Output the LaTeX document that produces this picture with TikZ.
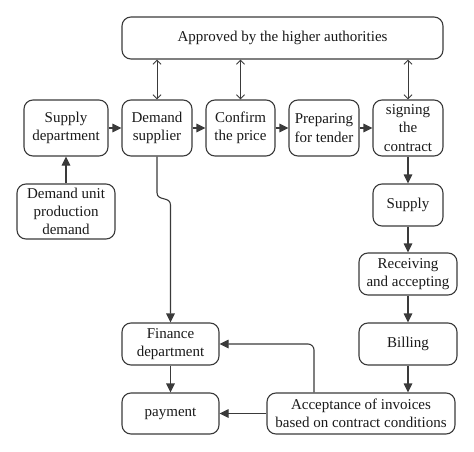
\documentclass[tikz,border=0pt]{standalone}
\usepackage{fontspec}
\setmainfont{Liberation Serif}
\usetikzlibrary{arrows.meta}
\definecolor{lc}{HTML}{3A3A3A}
\tikzset{
  box/.style={draw=lc, line width=1.1pt, rounded corners=9pt, align=center,
    inner sep=0pt, font=\fontsize{15}{18.3}\selectfont, text=black!90},
  flow/.style={draw=lc, line width=1.1pt, -{Triangle[length=9pt,width=8.5pt]}},
  both/.style={draw=lc, line width=1pt, {Straight Barb[length=4pt,width=8pt]}-{Straight Barb[length=4pt,width=8pt]}},
}
\begin{document}
\begin{tikzpicture}[x=1pt,y=-1pt]
\useasboundingbox (0,0) rectangle (474,452);
\node[box, minimum width=321pt, minimum height=42pt] (top) at (282.5,38) {Approved by the higher authorities};
\node[box, minimum width=84pt, minimum height=56pt] (supdep) at (66,128) {Supply\\department};
\node[box, minimum width=70pt, minimum height=56pt] (demsup) at (157,128) {Demand\\supplier};
\node[box, minimum width=69pt, minimum height=56pt] (confirm) at (240.5,128) {Confirm\\the price};
\node[box, minimum width=70pt, minimum height=56pt] (prep) at (324,128) {Preparing\\for tender};
\node[box, minimum width=70pt, minimum height=56pt] (sign) at (408,128) {signing\\the\\contract};
\node[box, minimum width=98pt, minimum height=55pt] (dunit) at (66,211.5) {Demand unit\\production\\demand};
\node[box, minimum width=70pt, minimum height=42pt] (supply) at (408,205) {Supply};
\node[box, minimum width=98pt, minimum height=42pt] (recv) at (408,274) {Receiving\\and accepting};
\node[box, minimum width=98pt, minimum height=42pt] (bill) at (408,344) {Billing};
\node[box, minimum width=97pt, minimum height=42pt] (fin) at (170.5,344) {Finance\\department};
\node[box, minimum width=97pt, minimum height=41pt] (pay) at (170.5,413.5) {payment};
\node[box, minimum width=188pt, minimum height=41pt] (acc) at (361,413.5) {Acceptance of invoices\\based on contract conditions};

\draw[flow] (dunit) -- (supdep);
\draw[flow] (supdep) -- (demsup);
\draw[flow] (demsup) -- (confirm);
\draw[flow] (confirm) -- (prep);
\draw[flow] (prep) -- (sign);
\draw[flow] (sign) -- (supply);
\draw[flow] (supply) -- (recv);
\draw[flow] (recv) -- (bill);
\draw[flow] (bill) -- (bill.south |- acc.north);
\draw[flow] (fin) -- (pay);
\draw[flow] (acc) -- (pay);
\draw[flow, rounded corners=6pt] ([xshift=-47pt]acc.north) |- (fin.east);
\draw[flow] (demsup.south) -- ++(0,36) .. controls ++(0,9) and ++(0,-9) .. (fin.north |- 0,205) -- (fin.north);

\draw[both] (top.south -| demsup.north) -- (demsup.north);
\draw[both] (top.south -| confirm.north) -- (confirm.north);
\draw[both] (top.south -| sign.north) -- (sign.north);
\end{tikzpicture}
\end{document}
